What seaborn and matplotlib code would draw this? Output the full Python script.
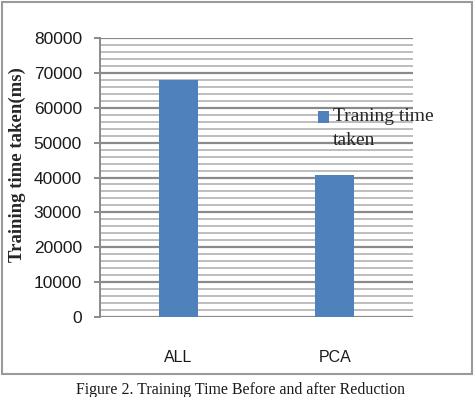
import matplotlib
matplotlib.use("Agg")
import matplotlib.pyplot as plt
import seaborn as sns
import pandas as pd
from matplotlib.ticker import MultipleLocator
from matplotlib.patches import Rectangle
from matplotlib.container import BarContainer
from matplotlib.legend_handler import HandlerPatch

categories = ["ALL", "PCA"]
training_time = [67900, 40700]
series_label = "Traning time\ntaken"
y_label = "Training time taken(ms)"
caption = "Figure 2. Training Time Before and after Reduction"

df = pd.DataFrame({"category": categories, "time": training_time})

sns.set_theme(style="white")
plt.rcParams["font.family"] = ["Liberation Sans", "DejaVu Sans"]

fig = plt.figure(figsize=(4.74, 3.97), dpi=100)
ax = fig.add_axes([100/474, 1-317/397, 313/474, 279/397])

sns.barplot(data=df, x="category", y="time", color="#4f81bd", width=0.25,
            saturation=1, label=series_label, ax=ax, zorder=3, linewidth=0)

ax.set_xlim(-0.5, 1.5)
ax.set_ylim(0, 80000)
ax.yaxis.set_major_locator(MultipleLocator(10000))
ax.yaxis.set_minor_locator(MultipleLocator(2000))
ax.grid(which="major", axis="y", color="#8a8a8a", linewidth=1.6, zorder=1)
ax.grid(which="minor", axis="y", color="#b8b8b8", linewidth=1.3, zorder=1)
ax.set_axisbelow(True)
for s in ["top", "right", "bottom"]:
    ax.spines[s].set_visible(False)
ax.spines["left"].set_color("#8a8a8a")
ax.spines["left"].set_linewidth(1.4)
ax.tick_params(axis="y", which="major", length=4, width=1.4, color="#8a8a8a",
               left=True, labelsize=12.5, labelcolor="#1a1a1a", pad=9)
ax.tick_params(axis="y", which="minor", length=0)
ax.tick_params(axis="x", length=0, labelsize=11.5, labelcolor="#1a1a1a", pad=24)
ax.set_xlabel("")
ax.set_ylabel(y_label, family="Liberation Serif", fontweight="bold", fontsize=13.5)
ax.yaxis.set_label_coords(-74/313, 0.545)


def _square(legend, orig_handle, xdescent, ydescent, width, height, fontsize):
    return Rectangle((-xdescent, -ydescent + 8), width, height)


def _copy_style(tgt, src):
    tgt.update_from(src.patches[0])


leg = ax.legend(loc="upper left", bbox_to_anchor=(318/474, 1-108/397),
                bbox_transform=fig.transFigure, frameon=False,
                prop={"family": "Liberation Serif", "size": 14},
                handlelength=0.55, handleheight=0.55, handletextpad=0.2,
                borderpad=0, borderaxespad=0,
                handler_map={BarContainer: HandlerPatch(patch_func=_square,
                                                        update_func=_copy_style)})
for t in leg.get_texts():
    t.set_linespacing(1.55)

fig.patches.append(Rectangle((2/474, 1-374/397), 470/474, 372/397,
                             transform=fig.transFigure, fill=False,
                             edgecolor="#9a9a9a", linewidth=1.5))
fig.text(241/474, 1-382/397, caption, ha="center", va="top",
         family="Liberation Serif", fontsize=11.4, color="#1a1a1a")

fig.savefig("out.png", dpi=100)
